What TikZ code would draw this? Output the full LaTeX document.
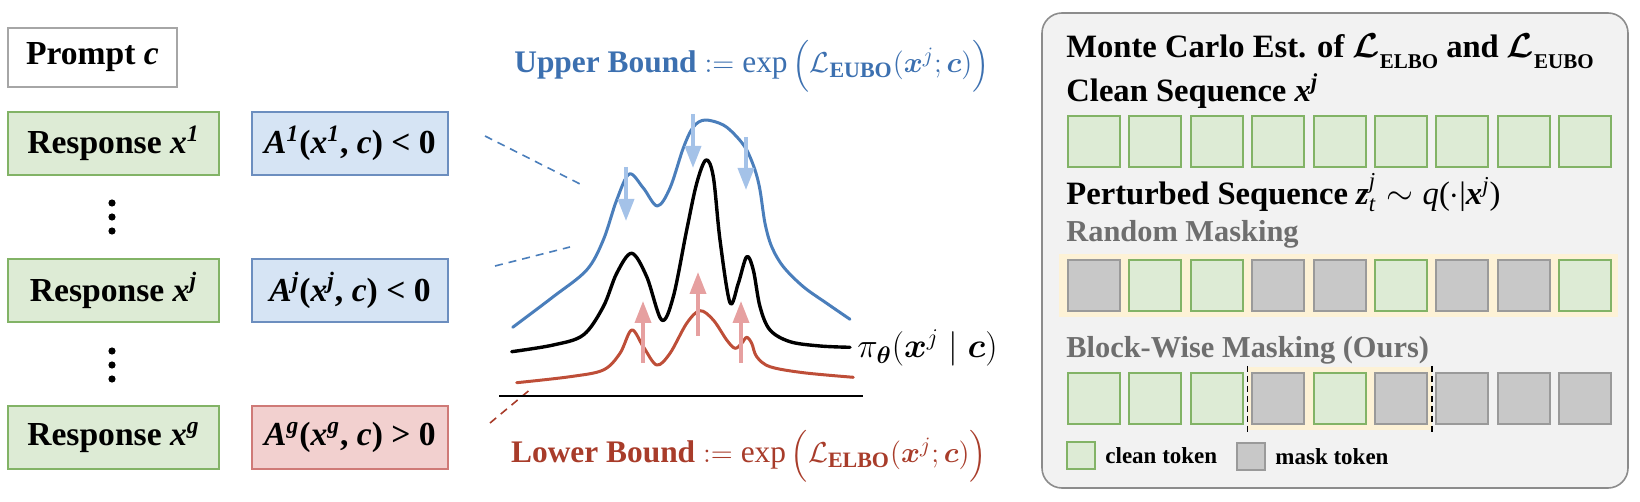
\documentclass[tikz,border=0pt]{standalone}
\usepackage{amsmath}
\usepackage{fontspec}
\setmainfont{Liberation Serif}
\usetikzlibrary{arrows.meta}
\definecolor{gfill}{HTML}{DDEBD5}
\definecolor{gdraw}{HTML}{82B366}
\definecolor{bfill}{HTML}{D6E4F4}
\definecolor{bdraw}{HTML}{6C8EBF}
\definecolor{rfill}{HTML}{F2D0CF}
\definecolor{rdraw}{HTML}{CF7A77}
\definecolor{tokgray}{HTML}{C8C8C8}
\definecolor{tokgraydraw}{HTML}{9A9A9A}
\definecolor{bandcol}{HTML}{FDF2D6}
\definecolor{panelfill}{HTML}{F2F2F2}
\definecolor{paneldraw}{HTML}{8C8C8C}
\definecolor{curveblue}{RGB}{74,126,187}
\definecolor{textblue}{RGB}{60,112,176}
\definecolor{curvered}{RGB}{190,78,56}
\definecolor{textred}{RGB}{168,60,42}
\definecolor{lightblue}{RGB}{164,194,232}
\definecolor{lightred}{RGB}{230,160,160}
\definecolor{graytext}{RGB}{110,110,110}
\newcommand{\subtag}[1]{\raisebox{-5.5pt}{\fontsize{10.5}{12}\selectfont\bfseries #1}}
\tikzset{
  box/.style={draw, line width=1pt, minimum height=31.5pt, inner sep=0pt, font=\fontsize{16.8}{20}\selectfont\bfseries},
  resp/.style={box, fill=gfill, draw=gdraw, minimum width=105.5pt},
  advneg/.style={box, minimum width=98pt, fill=bfill, draw=bdraw},
  advpos/.style={box, minimum width=98pt, fill=rfill, draw=rdraw},
  token/.style={minimum width=26pt, minimum height=25.5pt, inner sep=0pt, line width=1pt},
  tokc/.style={token, fill=gfill, draw=gdraw},
  tokm/.style={token, fill=tokgray, draw=tokgraydraw},
  heading/.style={anchor=base west, inner sep=0pt, font=\fontsize{16.3}{20}\selectfont\bfseries},
  subheading/.style={anchor=base west, inner sep=0pt, text=graytext, font=\fontsize{15.2}{18}\selectfont\bfseries},
  legend/.style={anchor=west, inner sep=0pt, font=\fontsize{11.5}{14}\selectfont\bfseries},
  bdash/.style={curveblue, line width=0.8pt, dash pattern=on 4pt off 3pt},
  rdash/.style={textred, line width=0.8pt, dash pattern=on 4pt off 3pt},
  downarrow/.style={lightblue, line width=1.8pt, -{Triangle[length=11pt,width=8pt]}},
  uparrow/.style={lightred, line width=1.8pt, -{Triangle[length=11pt,width=8pt]}},
  curve/.style={line width=1.5pt, line join=round, line cap=round}
}
\begin{document}
\begin{tikzpicture}[x=0.5pt,y=-0.5pt]
\useasboundingbox (0,0) rectangle (1640,502);

% ---------- left column ----------
\node[box, draw=gray!70, fill=white, minimum width=84.5pt, minimum height=29.5pt] (prompt) at (92.5,57.5) {Prompt \textit{c}};
\node[resp] (r1) at (113.5,143.5) {Response \textit{x}\textsuperscript{\textit{1}}};
\node[resp] (rj) at (113.5,290.5) {Response \textit{x}\textsuperscript{\textit{j}}};
\node[resp] (rg) at (113.5,437.5) {Response \textit{x}\textsuperscript{\textit{g}}};
\node[advneg] (a1) at (350,143.5) {\textit{A}\textsuperscript{\textit{1}}(\textit{x}\textsuperscript{\textit{1}}, \textit{c}) < 0};
\node[advneg] (aj) at (350,290.5) {\textit{A}\textsuperscript{\textit{j}}(\textit{x}\textsuperscript{\textit{j}}, \textit{c}) < 0};
\node[advpos] (ag) at (350,437.5) {\textit{A}\textsuperscript{\textit{g}}(\textit{x}\textsuperscript{\textit{g}}, \textit{c}) > 0};
\foreach \yy in {203,217,231,351,365,379} \fill (112,\yy) circle (1.8pt);

% ---------- dashed leaders ----------
\coordinate (d1s) at (485,136); \coordinate (d1e) at (580,184);
\coordinate (d2s) at (495,266); \coordinate (d2e) at (570,247);
\coordinate (d3s) at (490,423); \coordinate (d3e) at (532,388);
\draw[bdash] (d1s) -- (d1e);
\draw[bdash] (d2s) -- (d2e);
\draw[rdash] (d3s) -- (d3e);

% ---------- curves ----------
\draw[line width=0.7pt] (499,396) -- (863,396);
\draw[curve, curveblue] plot[smooth, tension=0.55] coordinates {
 (512.7,327.3) (553.3,296.7) (586.7,270) (603.3,240) (616.7,200) (629.3,174)
 (643.3,188) (657.3,206) (670,188) (683.3,148) (693.3,127) (705,120)
 (723.3,125) (736.7,136.7) (746.7,150) (755,170) (760,190) (765,223.3)
 (771.7,246.7) (783.3,266.7) (803.3,286.7) (826.7,303.3) (850,319.3)};
\draw[curve, black, line width=1.7pt] plot[smooth, tension=0.55] coordinates {
 (511.7,351.7) (553.3,345) (583.3,335) (603.3,306.7) (616.7,273.3) (631.7,253.3)
 (646.7,276.7) (661.7,320) (673.3,296.7) (686.7,230) (696.7,183.3) (706,160)
 (713.3,176.7) (720,240) (730,302.7) (738.3,283.3) (746.7,256.7) (753.3,270)
 (760,306.7) (770,330) (790,341.7) (820,346) (850,347.3)};
\draw[curve, curvered] plot[smooth, tension=0.55] coordinates {
 (516.7,382.7) (570,376.7) (603.3,370) (620,353.3) (631.7,330) (643.3,346.7)
 (656.7,365) (670,353.3) (686.7,323.3) (700,310.7) (713.3,320) (726.7,340)
 (735,348.3) (741.7,343.3) (746.7,337.3) (751.7,343.3) (756.7,356.7)
 (770,366.7) (803.3,372.7) (853.3,377.3)};
\draw[downarrow] (626,167) -- (626,221);
\draw[downarrow] (693,114) -- (693,168);
\draw[downarrow] (746,137) -- (746,190);
\draw[uparrow] (643,363) -- (643,301);
\draw[uparrow] (698,336) -- (698,272);
\draw[uparrow] (741,363) -- (741,301);

\node[anchor=west, inner sep=0pt, font=\fontsize{17.3}{20}\selectfont] (pi) at (857,348)
 {$\pi_{\boldsymbol{\theta}}(\boldsymbol{x}^{j}\mid\boldsymbol{c})$};
\node[anchor=base, inner sep=0pt, text=textblue, font=\fontsize{15.7}{18}\selectfont] (ub) at (752,73)
 {\textbf{Upper Bound} $:=\exp\Big(\mathcal{L}_{\mathbf{EUBO}}(\boldsymbol{x}^{j};\boldsymbol{c})\Big)$};
\node[anchor=base, inner sep=0pt, text=textred, font=\fontsize{15.7}{18}\selectfont] (lb) at (749,463)
 {\textbf{Lower Bound} $:=\exp\Big(\mathcal{L}_{\mathbf{ELBO}}(\boldsymbol{x}^{j};\boldsymbol{c})\Big)$};

% ---------- right panel ----------
\draw[fill=panelfill, draw=paneldraw, line width=0.8pt, rounded corners=10pt] (1042,13) rectangle (1628,488);
\node[heading] (title) at (1066,58)
 {Monte Carlo Est. of $\boldsymbol{\mathcal{L}}$\subtag{ELBO} and $\boldsymbol{\mathcal{L}}$\subtag{EUBO}};
\node[heading] (clean) at (1066,102) {Clean Sequence \textit{x}\textsuperscript{\textit{j}}};
\foreach \i in {0,...,8} \node[tokc] (c\i) at ({1094+61.4*\i},142) {};
\node[heading] (pert) at (1066,205)
 {Perturbed Sequence $\textbf{\textit{z}}_{\textmd{\textit{t}}}^{\textmd{\textit{j}}}\sim\textmd{\textit{q}(}{\cdot}\textmd{|}\textbf{\textit{x}}^{\textmd{\textit{j}}}\textmd{)}$};
\node[subheading] (rand) at (1066,242) {Random Masking};
\fill[bandcol] (1059,254) rectangle (1618,317);
\foreach \t [count=\i from 0] in {m,c,c,m,m,c,m,m,c} \node[tok\t] (m\i) at ({1094+61.4*\i},285.5) {};
\node[subheading] (block) at (1066,358) {Block-Wise Masking (Ours)};
\fill[bandcol] (1248,367) rectangle (1432,430);
\foreach \t [count=\i from 0] in {c,c,c,m,c,m,m,m,m} \node[tok\t] (b\i) at ({1094+61.4*\i},398.5) {};
\draw[line width=0.8pt, dash pattern=on 3pt off 2pt] (1247.5,366) -- (1247.5,433);
\draw[line width=0.8pt, dash pattern=on 3pt off 2pt] (1431.7,366) -- (1431.7,433);
\node[tokc, minimum width=14pt, minimum height=13.5pt] (lgc) at (1081,455.5) {};
\node[legend] (lgct) at (1105,456) {clean token};
\node[tokm, minimum width=14pt, minimum height=13.5pt] (lgm) at (1251,456.5) {};
\node[legend] (lgmt) at (1275,457) {mask token};
\end{tikzpicture}
\end{document}
